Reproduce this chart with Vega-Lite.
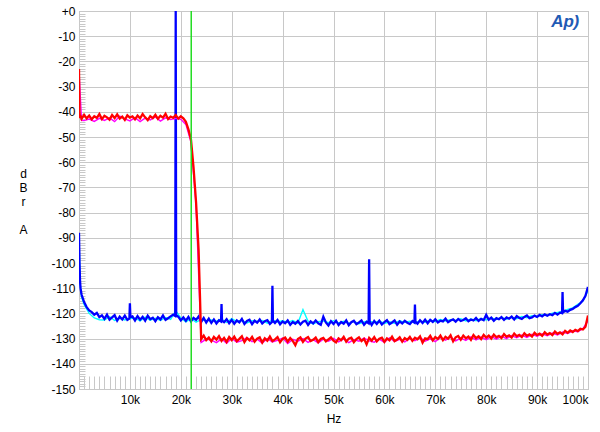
{
  "$schema": "https://vega.github.io/schema/vega-lite/v6.json",
  "width": 509,
  "height": 378,
  "autosize": {"type": "none"},
  "padding": {"left": 79, "top": 11, "right": 12, "bottom": 43},
  "background": "white",
  "config": {
    "font": "Liberation Sans",
    "view": {"stroke": "#b0b0b0", "strokeWidth": 1},
    "axis": {
      "labelFont": "Liberation Sans",
      "titleFont": "Liberation Sans",
      "labelFontSize": 12,
      "titleFontSize": 12,
      "titleFontWeight": "normal",
      "labelColor": "#000000",
      "titleColor": "#000000",
      "domain": false,
      "labelOverlap": false
    }
  },
  "datasets": {
    "fr": [
      {"f":0,"r":-23,"m":-24,"b":-88,"c":-89},
      {"f":100,"r":-40,"b":-100},
      {"f":200,"r":-42.5,"b":-107,"c":-108},
      {"f":300,"r":-41.5,"b":-110},
      {"f":500,"r":-42.8,"m":-43.4,"b":-112.5,"c":-113.5},
      {"f":1000,"r":-41.2,"m":-43.5,"b":-115.5,"c":-116.5},
      {"f":1500,"r":-42.6,"b":-117.5},
      {"f":2000,"r":-41.5,"m":-42.9,"b":-118.8,"c":-120},
      {"f":2500,"r":-43.0,"b":-119.5},
      {"f":3000,"r":-41.8,"m":-43.8,"b":-120.5,"c":-121.8},
      {"f":3500,"r":-42.4,"b":-119.8},
      {"f":4000,"r":-40.9,"m":-42.6,"b":-121.5,"c":-122.5},
      {"f":4500,"r":-42.9,"b":-120.8},
      {"f":5000,"r":-41.6,"m":-43.4,"b":-122.2,"c":-122.6},
      {"f":5500,"r":-42.2,"b":-120.5},
      {"f":6000,"r":-43.1,"m":-42.4,"b":-122.5,"c":-121.3},
      {"f":6500,"r":-41.3,"b":-121.6},
      {"f":7000,"r":-42.5,"m":-43.9,"b":-120.7,"c":-122.8},
      {"f":7500,"r":-41.0,"b":-122.9},
      {"f":8000,"r":-42.7,"m":-41.7,"b":-121.3,"c":-122},
      {"f":8500,"r":-41.9,"b":-122.4},
      {"f":9000,"r":-43.2,"m":-42.8,"b":-120.9,"c":-122.6},
      {"f":9500,"r":-41.4,"b":-122.6},
      {"f":9900,"b":-122.1},
      {"f":10000,"r":-42.3,"m":-43.6,"b":-116,"c":-122},
      {"f":10100,"b":-121.5},
      {"f":10500,"r":-41.8,"b":-121.2},
      {"f":11000,"r":-43,"m":-42.3,"b":-122.8,"c":-121.8},
      {"f":11500,"r":-41.5,"b":-121.1},
      {"f":12000,"r":-42.6,"m":-43.9,"b":-122.5,"c":-123},
      {"f":12500,"r":-40.9,"b":-121.4},
      {"f":13000,"r":-42.2,"m":-42.5,"b":-122.9,"c":-121.5},
      {"f":13500,"r":-43.3,"b":-120.9},
      {"f":14000,"r":-41.7,"m":-43.2,"b":-122.3,"c":-122.7},
      {"f":14500,"r":-42.5,"b":-121.7},
      {"f":15000,"r":-41.2,"m":-42.0,"b":-123.1,"c":-121.9},
      {"f":15500,"r":-42.8,"b":-121.5},
      {"f":16000,"r":-41.6,"m":-43.7,"b":-122.4,"c":-122.8},
      {"f":16500,"r":-42.3,"b":-120.8},
      {"f":17000,"r":-40.8,"m":-42.4,"b":-122.6,"c":-121.6},
      {"f":17500,"r":-42.9,"b":-121.9},
      {"f":18000,"r":-41.9,"m":-43.1,"b":-121.2,"c":-122.4},
      {"f":18500,"r":-42.4,"b":-120.5},
      {"f":18900,"b":-121.0},
      {"f":19000,"r":-41.3,"m":-42.6,"b":0,"c":-119},
      {"f":19100,"b":-120.8},
      {"f":19500,"r":-42.7,"b":-121.3},
      {"f":20000,"r":-41.8,"m":-43,"b":-122.8,"c":-121.8},
      {"f":20500,"r":-42.6,"b":-121.6},
      {"f":21000,"r":-44,"m":-45,"b":-122.9,"c":-123.4},
      {"f":21500,"r":-47,"b":-121.4},
      {"f":22000,"r":-51,"m":-52,"b":-123.2,"c":-122},
      {"f":22500,"r":-62,"b":-121.8},
      {"f":23000,"r":-76,"m":-77,"b":-122.6,"c":-123.5},
      {"f":23500,"r":-95,"b":-121.2},
      {"f":23750,"r":-112},
      {"f":24000,"r":-130.2,"m":-131.5,"b":-123.4,"c":-122.4},
      {"f":24500,"r":-128.8,"b":-121.8},
      {"f":25000,"r":-130.6,"m":-130.2,"b":-123.6,"c":-122.9},
      {"f":25500,"r":-129.6,"b":-122.1},
      {"f":26000,"r":-131.1,"m":-130.6,"b":-123.8,"c":-122.6},
      {"f":26500,"r":-129.3,"b":-122.4},
      {"f":27000,"r":-130.4,"m":-131.6,"b":-124.0,"c":-123.1},
      {"f":27500,"r":-129.0,"b":-122.7},
      {"f":27900,"b":-123.2},
      {"f":28000,"r":-130.9,"m":-130.1,"b":-116.3,"c":-122.2},
      {"f":28100,"b":-122.9},
      {"f":28500,"r":-129.7,"b":-123.5},
      {"f":29000,"r":-131.3,"m":-131.9,"b":-122.3,"c":-123.6},
      {"f":29500,"r":-129.4,"b":-123.9},
      {"f":30000,"r":-130.6,"m":-129.9,"b":-122.6,"c":-122.1},
      {"f":30500,"r":-129.2,"b":-124.1},
      {"f":31000,"r":-131.0,"m":-131.4,"b":-122.8,"c":-123.3},
      {"f":31500,"r":-130.1,"b":-123.6},
      {"f":32000,"r":-129.1,"m":-130.8,"b":-122.2,"c":-122.7},
      {"f":32500,"r":-131.4,"b":-124.2},
      {"f":33000,"r":-129.8,"m":-129.6,"b":-123.0,"c":-123.8},
      {"f":33500,"r":-130.7,"b":-122.5},
      {"f":34000,"r":-129.3,"m":-131.2,"b":-124.3,"c":-122.9},
      {"f":34500,"r":-131.2,"b":-122.9},
      {"f":35000,"r":-130.0,"m":-130.2,"b":-123.7,"c":-123.2},
      {"f":35500,"r":-129.5,"b":-122.4},
      {"f":36000,"r":-131.6,"m":-131.8,"b":-124.0,"c":-122.8},
      {"f":36500,"r":-129.9,"b":-123.1},
      {"f":37000,"r":-130.8,"m":-130.0,"b":-122.7,"c":-123.9},
      {"f":37500,"r":-129.2,"b":-124.2},
      {"f":37900,"b":-123.4},
      {"f":38000,"r":-131.0,"m":-131.3,"b":-109,"c":-122.6},
      {"f":38100,"b":-122.9},
      {"f":38500,"r":-130.3,"b":-123.8},
      {"f":39000,"r":-129.4,"m":-130.7,"b":-122.6,"c":-123.4},
      {"f":39500,"r":-131.5,"b":-124.3},
      {"f":40000,"r":-130.1,"m":-129.8,"b":-123.2,"c":-122.9},
      {"f":40500,"r":-129.6,"b":-123.9},
      {"f":41000,"r":-131.2,"m":-132.0,"b":-122.8,"c":-123.6},
      {"f":41500,"r":-129.8,"b":-124.5},
      {"f":42000,"r":-130.9,"m":-130.3,"b":-123.4,"c":-122.8},
      {"f":42500,"r":-132.6,"b":-124.1},
      {"f":43000,"r":-130.2,"m":-131.0,"b":-123.0,"c":-123.9},
      {"f":43500,"r":-129.5,"b":-124.4},
      {"f":44000,"r":-131.3,"m":-130.0,"b":-123.3,"c":-118.5},
      {"f":44500,"r":-130.0,"b":-122.9},
      {"f":45000,"r":-129.4,"m":-131.5,"b":-124.6,"c":-123.1},
      {"f":45500,"r":-131.0,"b":-123.2},
      {"f":46000,"r":-130.5,"m":-130.4,"b":-124.0,"c":-124.2},
      {"f":46500,"r":-129.6,"b":-122.8},
      {"f":47000,"r":-131.4,"m":-131.7,"b":-123.9,"c":-123.3},
      {"f":47500,"r":-130.1,"b":-124.5},
      {"f":48000,"r":-129.7,"m":-130.2,"b":-121.3,"c":-123.0},
      {"f":48500,"r":-131.1,"b":-123.6},
      {"f":49000,"r":-130.3,"m":-131.0,"b":-124.8,"c":-123.7},
      {"f":49500,"r":-129.5,"b":-123.1},
      {"f":50000,"r":-130.8,"m":-129.9,"b":-124.2,"c":-122.9},
      {"f":50500,"r":-131.5,"b":-122.9},
      {"f":51000,"r":-129.9,"m":-131.3,"b":-124.6,"c":-123.8},
      {"f":51500,"r":-130.6,"b":-123.4},
      {"f":52000,"r":-129.3,"m":-130.1,"b":-124.1,"c":-123.1},
      {"f":52500,"r":-131.2,"b":-122.8},
      {"f":53000,"r":-130.0,"m":-131.6,"b":-124.7,"c":-124.0},
      {"f":53500,"r":-129.6,"b":-123.5},
      {"f":54000,"r":-131.4,"m":-130.4,"b":-122.9,"c":-123.2},
      {"f":54500,"r":-130.2,"b":-124.3},
      {"f":55000,"r":-129.5,"m":-131.0,"b":-123.6,"c":-124.1},
      {"f":55500,"r":-131.0,"b":-122.8},
      {"f":56000,"r":-130.1,"m":-129.8,"b":-124.5,"c":-123.4},
      {"f":56500,"r":-132.3,"b":-123.3},
      {"f":56900,"b":-123.9},
      {"f":57000,"r":-129.7,"m":-130.9,"b":-98.5,"c":-123},
      {"f":57100,"b":-123.1},
      {"f":57500,"r":-130.8,"b":-124.6},
      {"f":58000,"r":-129.4,"m":-131.4,"b":-123.0,"c":-123.7},
      {"f":58500,"r":-131.1,"b":-124.2},
      {"f":59000,"r":-130.0,"m":-130.2,"b":-122.9,"c":-123.0},
      {"f":59500,"r":-129.6,"b":-124.4},
      {"f":60000,"r":-131.3,"m":-131.5,"b":-123.5,"c":-124.0},
      {"f":60500,"r":-129.9,"b":-122.7},
      {"f":61000,"r":-130.7,"m":-129.7,"b":-124.3,"c":-123.3},
      {"f":61500,"r":-129.2,"b":-123.6},
      {"f":62000,"r":-131.0,"m":-131.1,"b":-122.8,"c":-123.9},
      {"f":62500,"r":-130.4,"b":-124.5},
      {"f":63000,"r":-129.5,"m":-130.3,"b":-123.2,"c":-122.9},
      {"f":63500,"r":-131.2,"b":-124.0},
      {"f":64000,"r":-129.8,"m":-131.3,"b":-122.9,"c":-123.6},
      {"f":64500,"r":-130.5,"b":-123.7},
      {"f":65000,"r":-129.3,"m":-129.9,"b":-124.2,"c":-123.1},
      {"f":65500,"r":-130.9,"b":-123.0},
      {"f":65900,"b":-123.6},
      {"f":66000,"r":-129.7,"m":-130.8,"b":-116.5,"c":-123.8},
      {"f":66100,"b":-123.2},
      {"f":66500,"r":-130.3,"b":-124.1},
      {"f":67000,"r":-129.1,"m":-129.6,"b":-122.7,"c":-123.0},
      {"f":67500,"r":-131.6,"b":-123.8},
      {"f":68000,"r":-129.9,"m":-131.0,"b":-122.5,"c":-123.5},
      {"f":68500,"r":-130.2,"b":-123.9},
      {"f":69000,"r":-128.9,"m":-130.1,"b":-122.6,"c":-122.6},
      {"f":69500,"r":-130.7,"b":-123.4},
      {"f":70000,"r":-129.4,"m":-131.2,"b":-122.3,"c":-123.3},
      {"f":70500,"r":-130.1,"b":-123.6},
      {"f":71000,"r":-128.8,"m":-129.5,"b":-122.9,"c":-122.4},
      {"f":71500,"r":-130.6,"b":-123.2},
      {"f":72000,"r":-129.3,"m":-130.6,"b":-122.1,"c":-123.0},
      {"f":72500,"r":-130.0,"b":-123.5},
      {"f":73000,"r":-128.7,"m":-129.4,"b":-122.8,"c":-122.5},
      {"f":73500,"r":-131.1,"b":-122.4},
      {"f":74000,"r":-129.5,"m":-130.9,"b":-123.3,"c":-122.8},
      {"f":74500,"r":-129.0,"b":-122.2},
      {"f":75000,"r":-130.4,"m":-129.8,"b":-123.0,"c":-122.1},
      {"f":75500,"r":-128.8,"b":-122.6},
      {"f":76000,"r":-129.9,"m":-130.7,"b":-121.9,"c":-123.0},
      {"f":76500,"r":-129.2,"b":-123.1},
      {"f":77000,"r":-130.5,"m":-129.3,"b":-122.4,"c":-122.2},
      {"f":77500,"r":-128.6,"b":-122.8},
      {"f":78000,"r":-129.8,"m":-130.5,"b":-121.8,"c":-122.9},
      {"f":78500,"r":-129.1,"b":-123.0},
      {"f":79000,"r":-130.2,"m":-129.4,"b":-122.2,"c":-122.0},
      {"f":79500,"r":-128.5,"b":-122.7},
      {"f":80000,"r":-129.6,"m":-130.4,"b":-120.6,"c":-122.6},
      {"f":80500,"r":-128.8,"b":-122.5},
      {"f":81000,"r":-130.0,"m":-129.1,"b":-121.7,"c":-121.8},
      {"f":81500,"r":-128.4,"b":-122.9},
      {"f":82000,"r":-129.5,"m":-130.2,"b":-121.9,"c":-122.4},
      {"f":82500,"r":-128.9,"b":-122.3},
      {"f":83000,"r":-129.8,"m":-129.0,"b":-121.5,"c":-121.6},
      {"f":83500,"r":-128.2,"b":-122.6},
      {"f":84000,"r":-129.3,"m":-130.0,"b":-121.6,"c":-122.3},
      {"f":84500,"r":-128.7,"b":-122.1},
      {"f":85000,"r":-129.6,"m":-128.8,"b":-121.3,"c":-121.5},
      {"f":85500,"r":-128.0,"b":-122.4},
      {"f":86000,"r":-129.1,"m":-129.7,"b":-121.1,"c":-122.1},
      {"f":86500,"r":-128.5,"b":-121.8},
      {"f":87000,"r":-129.4,"m":-128.6,"b":-122.2,"c":-121.2},
      {"f":87500,"r":-127.9,"b":-121.4},
      {"f":88000,"r":-128.9,"m":-129.5,"b":-120.8,"c":-121.7},
      {"f":88500,"r":-128.3,"b":-121.9},
      {"f":89000,"r":-129.2,"m":-128.3,"b":-121.6,"c":-120.9},
      {"f":89500,"r":-127.7,"b":-120.9},
      {"f":90000,"r":-128.6,"m":-129.1,"b":-121.4,"c":-121.3},
      {"f":90500,"r":-128.0,"b":-120.6},
      {"f":91000,"r":-128.9,"m":-128.1,"b":-121.2,"c":-120.5},
      {"f":91500,"r":-127.5,"b":-120.4},
      {"f":92000,"r":-128.4,"m":-128.9,"b":-120.9,"c":-120.8},
      {"f":92500,"r":-127.8,"b":-120.3},
      {"f":93000,"r":-128.6,"m":-127.8,"b":-120.7,"c":-119.9},
      {"f":93500,"r":-127.2,"b":-119.8},
      {"f":94000,"r":-128.1,"m":-128.6,"b":-120.5,"c":-119.6},
      {"f":94500,"r":-127.5,"b":-119.7},
      {"f":94900,"b":-119.9},
      {"f":95000,"r":-128.3,"m":-127.4,"b":-111.5,"c":-119.2},
      {"f":95100,"b":-119.6},
      {"f":95500,"r":-126.9,"b":-119.0},
      {"f":96000,"r":-127.7,"m":-128.0,"b":-119.3,"c":-118.4},
      {"f":96500,"r":-126.8,"b":-118.6},
      {"f":97000,"r":-127.4,"m":-126.9,"b":-118.2,"c":-117.8},
      {"f":97500,"r":-126.5,"b":-117.5},
      {"f":98000,"r":-127.0,"m":-127.3,"b":-117.0,"c":-116.4},
      {"f":98500,"r":-126.1,"b":-116.0},
      {"f":99000,"r":-126.4,"m":-126.0,"b":-114.8,"c":-115.1},
      {"f":99500,"r":-125.3,"b":-113.0},
      {"f":100000,"r":-120.8,"m":-123,"b":-109.5,"c":-111}
    ],
    "logo": [
      {"f": 95000, "db": -4.3, "t": "Ap"},
      {"f": 97700, "db": -4.3, "t": ")"}
    ]
  },
  "data": {"name": "fr"},
  "encoding": {
    "x": {
      "field": "f",
      "type": "quantitative",
      "scale": {"domain": [0, 100000], "nice": false, "zero": false},
      "axis": {
        "title": "Hz",
        "titleX": 254.5,
        "titleY": 29,
        "titleBaseline": "middle",
        "values": [0,1000,2000,3000,4000,5000,6000,7000,8000,9000,10000,11000,12000,13000,14000,15000,16000,17000,18000,19000,20000,21000,22000,23000,24000,25000,26000,27000,28000,29000,30000,31000,32000,33000,34000,35000,36000,37000,38000,39000,40000,41000,42000,43000,44000,45000,46000,47000,48000,49000,50000,51000,52000,53000,54000,55000,56000,57000,58000,59000,60000,61000,62000,63000,64000,65000,66000,67000,68000,69000,70000,71000,72000,73000,74000,75000,76000,77000,78000,79000,80000,81000,82000,83000,84000,85000,86000,87000,88000,89000,90000,91000,92000,93000,94000,95000,96000,97000,98000,99000,100000],
        "labelExpr": "datum.value % 10000 == 0 && datum.value > 0 ? (datum.value / 1000) + 'k' : ''",
        "labelFlush": true,
        "labelPadding": 18,
        "tickSize": -13,
        "tickColor": "#c8c8c8",
        "grid": true,
        "gridColor": {"condition": {"test": "datum.value % 10000 == 0", "value": "#c8c8c8"}, "value": "transparent"}
      }
    },
    "y": {
      "field": "b",
      "type": "quantitative",
      "scale": {"domain": [-150, 0], "nice": false, "zero": false},
      "axis": {
        "title": ["d", "B", "r", "\u200b", "A"],
        "titleAngle": 0,
        "titleX": -56,
        "titleY": 162,
        "titleAlign": "center",
        "titleBaseline": "middle",
        "titleLineHeight": 14,
        "values": [-150,-149,-148,-147,-146,-145,-144,-143,-142,-141,-140,-139,-138,-137,-136,-135,-134,-133,-132,-131,-130,-129,-128,-127,-126,-125,-124,-123,-122,-121,-120,-119,-118,-117,-116,-115,-114,-113,-112,-111,-110,-109,-108,-107,-106,-105,-104,-103,-102,-101,-100,-99,-98,-97,-96,-95,-94,-93,-92,-91,-90,-89,-88,-87,-86,-85,-84,-83,-82,-81,-80,-79,-78,-77,-76,-75,-74,-73,-72,-71,-70,-69,-68,-67,-66,-65,-64,-63,-62,-61,-60,-59,-58,-57,-56,-55,-54,-53,-52,-51,-50,-49,-48,-47,-46,-45,-44,-43,-42,-41,-40,-39,-38,-37,-36,-35,-34,-33,-32,-31,-30,-29,-28,-27,-26,-25,-24,-23,-22,-21,-20,-19,-18,-17,-16,-15,-14,-13,-12,-11,-10,-9,-8,-7,-6,-5,-4,-3,-2,-1,0],
        "labelExpr": "datum.value % 10 == 0 ? (datum.value == 0 ? '+0' : datum.value) : ''",
        "labelPadding": 10,
        "tickSize": -6,
        "tickColor": "#c8c8c8",
        "grid": true,
        "gridColor": {"condition": {"test": "datum.value % 10 == 0", "value": "#c8c8c8"}, "value": "transparent"}
      }
    }
  },
  "layer": [
    {
      "mark": {"type": "line", "color": "#00ffff", "strokeWidth": 1.4, "invalid": "filter", "clip": true},
      "encoding": {"y": {"field": "c", "type": "quantitative"}}
    },
    {
      "mark": {"type": "line", "color": "#0000ff", "strokeWidth": 2.3, "invalid": "filter", "clip": true},
      "encoding": {"y": {"field": "b", "type": "quantitative"}}
    },
    {
      "mark": {"type": "line", "color": "#ff00ff", "strokeWidth": 1.4, "invalid": "filter", "clip": true},
      "encoding": {"y": {"field": "m", "type": "quantitative"}}
    },
    {
      "mark": {"type": "line", "color": "#ff0000", "strokeWidth": 2.3, "invalid": "filter", "clip": true},
      "encoding": {"y": {"field": "r", "type": "quantitative"}}
    },
    {
      "data": {"values": [{"f": 22050}]},
      "mark": {"type": "rule", "color": "#22dd22", "strokeWidth": 1.5},
      "encoding": {"x": {"field": "f", "type": "quantitative"}, "y": null}
    },
    {
      "data": {"name": "logo"},
      "mark": {"type": "text", "color": "#1f5bb5", "font": "Liberation Sans", "fontSize": 17, "fontStyle": "italic", "fontWeight": "bold", "align": "center", "baseline": "middle"},
      "encoding": {
        "y": {"field": "db", "type": "quantitative"},
        "text": {"field": "t"}
      }
    }
  ]
}
